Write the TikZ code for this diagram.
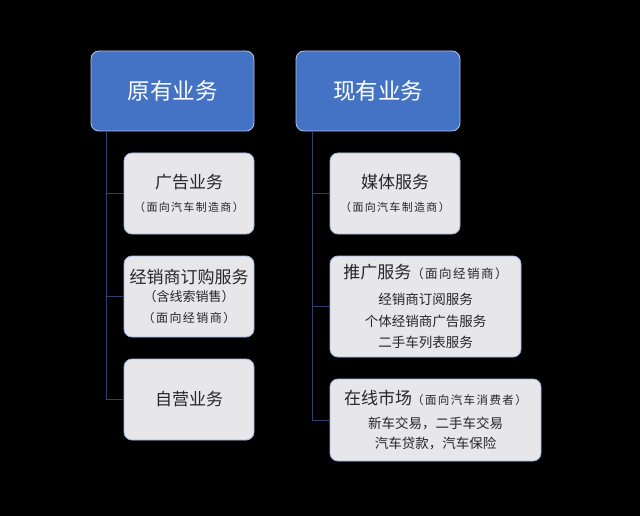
\documentclass[tikz,border=0pt]{standalone}
\usepackage{fontspec}
\newfontfamily\cjk{Noto Sans CJK SC}
\usepackage{xcolor}
\usepackage{tikz}
\usetikzlibrary{positioning}

\definecolor{headblue}{HTML}{4472C4}
\definecolor{headedge}{HTML}{B4C3E8}
\definecolor{itemgray}{HTML}{E7E7EA}
\definecolor{itemedge}{HTML}{9FB3E0}
\definecolor{treeblue}{HTML}{2F4170}
\definecolor{inktext}{HTML}{262626}

\newcommand{\smalltxt}[2][11]{{\fontsize{#1}{20}\selectfont\addfontfeatures{LetterSpace=12}#2}}
\newcommand{\midtxt}[1]{{\fontsize{13.5}{20}\selectfont #1}}

\begin{document}
\begin{tikzpicture}[
  x=1pt, y=-1pt,
  head/.style={draw=headedge, fill=headblue, rounded corners=8pt, minimum width=163pt, minimum height=80pt, text=white, font=\cjk\fontsize{22.5}{26}\selectfont, line width=0.8pt},
  item/.style={draw=itemedge, fill=itemgray, rounded corners=8pt, minimum width=130pt, minimum height=81pt, align=center, text=inktext, font=\cjk\fontsize{17}{20}\selectfont, inner sep=0pt, line width=0.8pt},
  tree/.style={draw=treeblue, line width=0.8pt},
]
\fill[black] (0,0) rectangle (640,516);
\useasboundingbox (0,0) rectangle (640,516);

% Headers
\node[head] (old) at (172.5,91) {原有业务};
\node[head, minimum width=164pt] (new) at (378,91) {现有业务};

% Old business
\node[item, below=21.2pt of old.south east, anchor=north east] (ad) {广告业务\\[2.5pt]\smalltxt{（面向汽车制造商）}};
\node[item, below=21.2pt of ad] (deal) {经销商订购服务\\[-1.6pt]{\fontsize{13}{20}\selectfont （含线索销售）}\\[1.3pt]\smalltxt[12]{（面向经销商）}};
\node[item, below=21.2pt of deal] (self) {自营业务};

% New business
\node[item, below=21.2pt of new.south east, anchor=north east] (media) {媒体服务\\[2.5pt]\smalltxt{（面向汽车制造商）}};
\node[item, minimum width=191pt, minimum height=101pt, below=21.2pt of media.south west, anchor=north west] (promo) {推广服务\smalltxt[12.5]{（面向经销商）}\\[5.8pt]\midtxt{经销商订阅服务}\\[2pt]\midtxt{个体经销商广告服务}\\[1pt]\midtxt{二手车列表服务}};
\node[item, minimum width=211pt, minimum height=82pt, below=21.2pt of promo.south west, anchor=north west] (market) {在线市场\smalltxt[11.5]{（面向汽车消费者）}\\[4.8pt]\midtxt{新车交易，二手车交易}\\\midtxt{汽车贷款，汽车保险}};

% Tree lines
\coordinate (oldtrunk) at ([xshift=16pt]old.south west);
\coordinate (newtrunk) at ([xshift=17pt]new.south west);
\draw[tree] (oldtrunk) |- (self.west);
\draw[tree] (oldtrunk |- ad.west) -- (ad.west);
\draw[tree] (oldtrunk |- deal.west) -- (deal.west);
\draw[tree] (newtrunk) |- (market.west);
\draw[tree] (newtrunk |- media.west) -- (media.west);
\draw[tree] (newtrunk |- promo.west) -- (promo.west);
\end{tikzpicture}
\end{document}
